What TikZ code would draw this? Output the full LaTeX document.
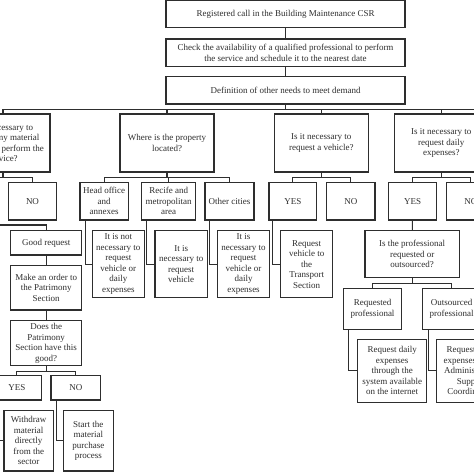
\documentclass[tikz,border=0pt]{standalone}
\usepackage{fontspec}
\setmainfont{Liberation Serif}
\definecolor{ink}{HTML}{2E2E2E}
\tikzset{
  box/.style={draw=ink, line width=1.1pt, fill=white, text=ink, align=center,
    inner sep=0pt, font=\fontsize{9}{10.5}\selectfont},
  link/.style={draw=ink, line width=1.1pt},
}
\begin{document}
\begin{tikzpicture}[x=1pt,y=-1pt]
\useasboundingbox (0,0) rectangle (474,474);
\clip (0,0) rectangle (474,474);
\fill[white] (0,0) rectangle (474,474);
% top chain
\node[box, minimum width=239pt, minimum height=27.3pt] (call) at (285.5,14.1) {Registered call in the Building Maintenance CSR};
\node[box, minimum width=239pt, minimum height=27.3pt] (check) at (285.5,52.65) {Check the availability of a qualified professional to perform\\the service and schedule it to the nearest date};
\node[box, minimum width=239pt, minimum height=27.3pt] (def) at (285.5,90.35) {Definition of other needs to meet demand};
% first level questions
\node[box, minimum width=94pt, minimum height=58pt] (q1) at (3,143) {Is it necessary to\\request any material\\in order to perform the\\service?};
\node[box, minimum width=94pt, minimum height=58pt] (q2) at (167,143) {Where is the property\\located?};
\node[box, minimum width=94pt, minimum height=58pt] (q3) at (321.3,143) {Is it necessary to\\request a vehicle?};
\node[box, minimum width=94pt, minimum height=58pt] (q4) at (441.3,143) {Is it necessary to\\request daily\\expenses?};
\coordinate (q5) at (560,143);
% second level
\coordinate (q1yes) at (-27,220);
\node[box, minimum width=48.4pt, minimum height=37.3pt] (q1no) at (32.5,201.35) {NO};
\node[box, minimum width=48.3pt, minimum height=37.3pt] (head) at (104.15,201.35) {Head office\\and\\annexes};
\node[box, minimum width=54pt, minimum height=37.3pt] (recife) at (168.7,201.35) {Recife and\\metropolitan\\area};
\node[box, minimum width=49pt, minimum height=37.3pt] (other) at (229.5,201.35) {Other cities};
\node[box, minimum width=47.7pt, minimum height=37.3pt] (q3yes) at (292.85,201.35) {YES};
\node[box, minimum width=48.3pt, minimum height=37.3pt] (q3no) at (350.85,201.35) {NO};
\node[box, minimum width=48.4pt, minimum height=37.3pt] (q4yes) at (412.5,201.35) {YES};
\node[box, minimum width=48.4pt, minimum height=37.3pt] (q4no) at (470.85,201.35) {NO};
% material branch
\node[box, minimum width=71pt, minimum height=24.3pt] (good) at (46.2,242.85) {Good request};
\node[box, minimum width=71pt, minimum height=44.3pt] (order) at (46.2,287.85) {Make an order to\\the Patrimony\\Section};
\node[box, minimum width=71pt, minimum height=45pt] (does) at (46.2,343.2) {Does the\\Patrimony\\Section have this\\good?};
\node[box, minimum width=49.7pt, minimum height=24.3pt] (dyes) at (16.85,387.85) {YES};
\node[box, minimum width=49.7pt, minimum height=24.3pt] (dno) at (75.85,387.85) {NO};
\node[box, minimum width=49.3pt, minimum height=60.3pt] (withdraw) at (28.65,440.85) {Withdraw\\material\\directly\\from the\\sector};
\node[box, minimum width=50pt, minimum height=60.3pt] (start) at (88.3,440.85) {Start the\\material\\purchase\\process};
% location branch
\node[box, minimum width=52pt, minimum height=67pt] (notnec) at (118.3,264.2) {It is not\\necessary to\\request\\vehicle or\\daily\\expenses};
\node[box, minimum width=52.3pt, minimum height=67pt] (necveh) at (181.15,264.2) {It is\\necessary to\\request\\vehicle};
\node[box, minimum width=51.6pt, minimum height=67pt] (necboth) at (243.5,264.2) {It is\\necessary to\\request\\vehicle or\\daily\\expenses};
% vehicle branch
\node[box, minimum width=52pt, minimum height=67pt] (transport) at (306.7,264.2) {Request\\vehicle to\\the\\Transport\\Section};
% daily expenses branch
\node[box, minimum width=94.3pt, minimum height=47pt] (prof) at (412.15,254.2) {Is the professional\\requested or\\outsourced?};
\node[box, minimum width=58.4pt, minimum height=41pt] (reqprof) at (372.5,308.8) {Requested\\professional};
\node[box, minimum width=58.4pt, minimum height=41pt] (outprof) at (451.65,308.8) {Outsourced\\professional};
\node[box, minimum width=69pt, minimum height=63pt] (reqdaily) at (392.2,370.8) {Request daily\\expenses\\through the\\system available\\on the internet};
\node[box, minimum width=69pt, minimum height=63pt] (reqadmin) at (471.2,370.8) {Request daily\\expenses to the\\Administrative\\Support\\Coordination};
% connectors
\draw[link] (call) -- (check);
\draw[link] (check) -- (def);
\foreach \c in {q1,q2,q3,q4,q5} {\draw[link] (def.south) -- ++(0,4.7) -| (\c.north);}
\draw[link] (q1.south) -- ++(0,5.3) -| (q1yes);
\draw[link] (q1.south) -- ++(0,5.3) -| (q1no.north);
\foreach \c in {head,recife,other} {\draw[link] (q2.south) -- ++(0,5.3) -| (\c.north);}
\foreach \c in {q3yes,q3no} {\draw[link] (q3.south) -- ++(0,5.3) -| (\c.north);}
\foreach \c in {q4yes,q4no} {\draw[link] (q4.south) -- ++(0,5.3) -| (\c.north);}
\draw[link] (q1yes) -- ++(0,5) -| (good.north);
\draw[link] (good) -- (order);
\draw[link] (order) -- (does);
\foreach \c in {dyes,dno} {\draw[link] (does.south) -- ++(0,5) -| (\c.north);}
\draw[link] ([xshift=5.7pt]dyes.south west) |- (withdraw.west);
\draw[link] ([xshift=5.7pt]dno.south west) |- (start.west);
\draw[link] ([xshift=6pt]head.south west) |- (notnec.west);
\draw[link] ([xshift=5.6pt]recife.south west) |- (necveh.west);
\draw[link] ([xshift=5pt]other.south west) |- (necboth.west);
\draw[link] ([xshift=4.3pt]q3yes.south west) |- (transport.west);
\draw[link] (q4yes) -- (prof);
\foreach \c in {reqprof,outprof} {\draw[link] (prof.south) -- ++(0,5) -| (\c.north);}
\draw[link] ([xshift=6pt]reqprof.south west) |- (reqdaily.west);
\draw[link] ([xshift=7pt]outprof.south west) |- (reqadmin.west);
\end{tikzpicture}
\end{document}
